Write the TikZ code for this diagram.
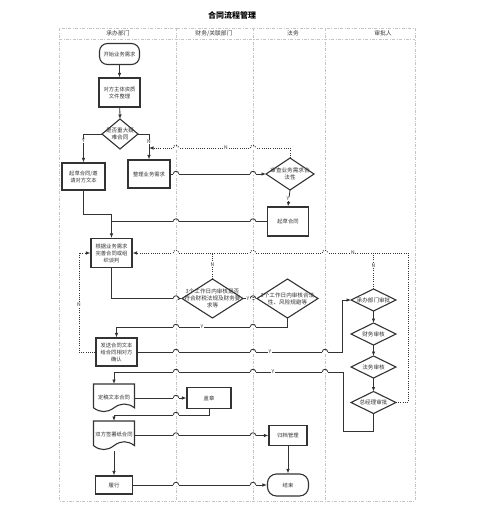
\documentclass[tikz,border=0pt]{standalone}
\usepackage{fontspec}
\setmainfont{Noto Sans CJK SC}
\usetikzlibrary{arrows.meta,calc}
\definecolor{ink}{HTML}{333333}
\definecolor{lanec}{HTML}{C4C4C4}
\tikzset{
  shapeline/.style={draw=ink, line width=1.1pt},
  box/.style={shapeline, fill=white, inner sep=0.5pt, align=center, text=ink, font=\fontsize{5.3}{7}\selectfont},
  rbox/.style={box, rounded corners=8pt},
  hidbox/.style={inner sep=0pt, outer sep=0pt},
  txt/.style={align=center, text=ink, inner sep=0pt, font=\fontsize{5.3}{7}\selectfont},
  dtxt/.style={align=center, text=ink, inner sep=0pt, font=\fontsize{5.6}{7}\selectfont},
  conn/.style={draw=ink, line width=0.8pt},
  arr/.style={conn, -{Latex[length=4.5pt,width=3.6pt]}},
  dotl/.style={dash pattern=on 1pt off 1.2pt},
  lbl/.style={fill=white, inner sep=0.4pt, text=ink, font=\fontsize{5}{6}\selectfont},
  laneline/.style={draw=lanec, line width=0.6pt, dash pattern=on 3pt off 1.5pt on 0.8pt off 1.5pt},
  head/.style={text=ink, font=\fontsize{5.8}{7}\selectfont, inner sep=0pt}
}
\newcommand\diam[6]{%
  \node[hidbox, minimum width=#4pt, minimum height=#5pt] (#1) at (#2,#3) {};
  \draw[shapeline, fill=white] (#1.north) -- (#1.east) -- (#1.south) -- (#1.west) -- cycle;
  \node[dtxt] (#1-t) at (#1) {#6};
}
\newcommand\docshape[6]{%
  \node[hidbox, minimum width=#4pt, minimum height=#5pt] (#1) at (#2,#3) {};
  \pgfmathsetmacro\dsXl{#2-#4/2}\pgfmathsetmacro\dsXr{#2+#4/2}
  \pgfmathsetmacro\dsYt{#3-#5/2}\pgfmathsetmacro\dsD{0.3*#5}
  \pgfmathsetmacro\dsYe{#3+#5/2-\dsD/2}
  \pgfmathsetmacro\dsYu{\dsYe-0.6*\dsD}\pgfmathsetmacro\dsYd{\dsYe+0.6*\dsD}
  \pgfmathsetmacro\dsCa{#2+#4/2-#4/6}\pgfmathsetmacro\dsCb{#2+#4/6}
  \pgfmathsetmacro\dsCc{#2-#4/6}\pgfmathsetmacro\dsCd{#2-#4/2+#4/6}
  \draw[shapeline, fill=white] (\dsXl,\dsYt) -- (\dsXr,\dsYt) -- (\dsXr,\dsYe)
     .. controls (\dsCa,\dsYu) and (\dsCb,\dsYu) .. (#2,\dsYe)
     .. controls (\dsCc,\dsYd) and (\dsCd,\dsYd) .. (\dsXl,\dsYe) -- cycle;
  \node[txt] (#1-t) at (#2,#3-1) {#6};
}
\newcommand\hop[3][]{%
  \fill[white] (#2-2.8,#3-0.9) rectangle (#2+2.8,#3+0.9);
  \draw[conn,#1] (#2-2.8,#3) .. controls (#2-2.8,#3-3.6) and (#2+2.8,#3-3.6) .. (#2+2.8,#3);
}
\begin{document}
\begin{tikzpicture}[x=1pt,y=-1pt]
\useasboundingbox (0,0) rectangle (480,528);
% title
\node[text=black, font=\fontsize{8}{9}\selectfont\bfseries, inner sep=0pt] (title) at (232,15) {合同流程管理};
% pool and lanes
\draw[laneline] (59,28) rectangle (415,501);
\draw[laneline] (59,39) -- (415,39);
\draw[laneline] (176,28) -- (176,501);
\draw[laneline] (253,28) -- (253,501);
\draw[laneline] (325,28) -- (325,501);
\node[head] (h1) at (118,33.5) {承办部门};
\node[head] (h2) at (214,33.5) {财务/关联部门};
\node[head] (h3) at (293,33.5) {法务};
\node[head] (h4) at (383,33.5) {审批人};

% nodes
\node[rbox, minimum width=40pt, minimum height=21pt] (start) at (119.5,54) {开始业务需求};
\node[box, minimum width=41pt, minimum height=29pt] (dfzt) at (119.5,92.5) {对方主体资质\\文件整理};
\diam{sf}{120}{134}{36}{30}{是否重大疑\\难合同}
\node[box, minimum width=43pt, minimum height=27pt] (qc1) at (83.5,176.5) {起草合同/邀\\请对方文本};
\node[box, minimum width=42pt, minimum height=28pt] (zl) at (149,174) {整理业务需求};
\diam{sc}{290}{174}{48}{32}{审查业务需求合\\法性}
\node[box, minimum width=41pt, minimum height=29pt] (qc2) at (288,221.5) {起草合同};
\node[box, minimum width=41pt, minimum height=29pt] (gj) at (111.5,253) {根据业务需求\\完善合同或组\\织谈判};
\diam{d1}{212.5}{298.5}{61}{39}{3个工作日内审核是否\\符合财税法规及财务要\\求等}
\diam{d2}{287.5}{298.5}{61}{39}{3个工作日内审核合法\\性、风险规避等}
\node[box, minimum width=41pt, minimum height=28pt] (fs) at (116.5,352) {发送合同文本\\给合同相对方\\确认};
\diam{cb}{373.5}{300}{45}{22}{承办部门审批}
\diam{cw}{373.5}{334}{45}{22}{财务审核}
\diam{fw}{373.5}{367}{45}{22}{法务审核}
\diam{zj}{373.5}{402.5}{45}{22}{总经理审批}
\docshape{dg}{114}{398}{41}{28}{定稿文本合同}
\node[box, minimum width=44pt, minimum height=21pt] (gz) at (209,398) {盖章};
\docshape{sq}{114}{435.5}{41}{29}{双方签署纸合同}
\node[box, minimum width=38pt, minimum height=20pt] (gd) at (288,435.5) {归档管理};
\node[box, minimum width=37pt, minimum height=18pt] (lx) at (114,485) {履行};
\node[rbox, minimum width=41pt, minimum height=22pt, rounded corners=9pt] (js) at (288,485) {结束};

% helper coordinates
\coordinate (m1) at (149,148);
\coordinate (j1) at (111.5,214);
\coordinate (k2) at (116.5,327);
\coordinate (k3) at (342,352);
\coordinate (k4) at (343,431);
\coordinate (k5) at (114,372);
\coordinate (k6) at (408,253);
\coordinate (k7) at (79,253);
\coordinate (k8) at (114,415);

% connectors
\draw[arr] (start) -- (dfzt);
\draw[arr] (dfzt) -- (sf.north);
\draw[arr] (sf.west) -| (qc1.north);
\draw[arr] (sf.east) -| (zl.north);
\draw[arr,dotl] (sc.north) |- (m1);
\draw[arr] (zl.east) -- (sc.west);
\draw[arr] (sc.south) -- (qc2.north);
\draw[arr] (qc1.south) |- (j1) -- (gj.north);
\draw[conn] (qc2.west) -- (qc2.west -| gj.north);
\draw[arr] (gj.south) |- (d1.west);
\draw[arr] (d1.east) -- (d2.west);
\draw[arr] (d2.south) |- (k2) -- (fs.north);
\draw[arr] (fs.east) -- (k3) |- (cb.west);
\draw[arr] (cb.south) -- (cw.north);
\draw[arr] (cw.south) -- (fw.north);
\draw[arr] (fw.south) -- (zj.north);
\draw[arr] (zj.south) |- (k4) |- (k5) -- (dg.north);
\draw[arr,dotl] (zj.east) -| (k6) -- (gj.east);
\draw[conn,dotl] (d1.north) -- (d1.north |- gj.east);
\draw[conn,dotl] (cb.north) -- (cb.north |- gj.east);
\draw[arr,dotl] (fs.west) -| (k7) -- (gj.west);
\draw[arr] (dg.east) -- (gz.west);
\draw[arr] (gz.south) |- (k8) -- (sq.north);
\draw[arr] (sq.east) -- (gd.west);
\draw[arr] (gd.south) -- (js.north);
\draw[arr] ([yshift=-1pt]sq.south) -- (lx.north);
\draw[arr] (lx.east) -- (js.west);

% line hops
\hop[dotl]{176}{148}\hop[dotl]{253}{148}
\hop{176}{174}\hop{253}{174}
\hop{176}{221.5}\hop{253}{221.5}
\hop[dotl]{176}{253}\hop[dotl]{253}{253}\hop[dotl]{325}{253}
\hop{176}{298.5}\hop{253}{298.5}
\hop{176}{327}\hop{253}{327}
\hop{176}{352}\hop{253}{352}\hop{325}{352}
\hop{176}{372}\hop{253}{372}\hop{325}{372}
\hop{176}{398}
\hop{176}{415}
\hop{176}{435.5}\hop{253}{435.5}
\hop{176}{485}\hop{253}{485}

% labels
\node[lbl] (ly1) at (83.5,141) {Y};
\node[lbl] (ln1) at (149,142) {N};
\node[lbl] (ln2) at (226,148) {N};
\node[lbl] (ly2) at (288,199) {Y};
\node[lbl] (ln3) at (212.5,265) {N};
\node[lbl] (ln4) at (353,253) {N};
\node[lbl] (ln5) at (373.5,266) {N};
\node[lbl] (ln6) at (79,305) {N};
\node[lbl] (ly3) at (248,298.5) {Y};
\node[lbl] (ly4) at (202,327) {Y};
\node[lbl] (ly5) at (270,352) {Y};
\node[lbl] (ly6) at (273,372) {Y};
\end{tikzpicture}
\end{document}
